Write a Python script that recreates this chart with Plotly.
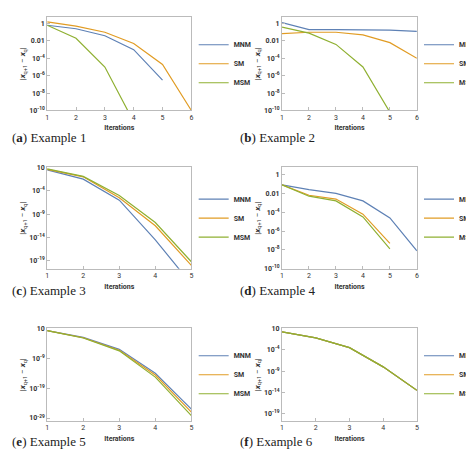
import plotly.graph_objects as go

iters6 = [1, 2, 3, 4, 5, 6]
iters5 = [1, 2, 3, 4, 5]

# log10 of |x_{q+1} - x_q|
ex1_mnm = [-0.2, -0.6, -1.4, -3.0, -6.5]
ex1_sm = [0.2, -0.3, -1.0, -2.3, -4.7, -10.0]
ex1_msm = [-0.2, -1.7, -5.0, -11.3]
ex2_mnm = [0.1, -0.7, -0.7, -0.7, -0.75, -0.9]
ex2_sm = [-1.15, -1.0, -1.0, -1.3, -2.2, -4.0]
ex2_msm = [-0.4, -1.1, -2.4, -5.0, -10.2]
ex3_mnm = [0.5, -1.5, -6.0, -14.5, -24.0]
ex3_sm = [0.6, -1.0, -5.5, -11.5, -20.0]
ex3_msm = [0.7, -0.9, -5.0, -10.8, -19.2]
ex4_mnm = [-1.1, -1.6, -2.0, -2.8, -4.6, -8.1]
ex4_sm = [-1.1, -2.2, -2.6, -4.2, -7.3]
ex4_msm = [-1.1, -2.3, -2.8, -4.5, -7.9]
ex5_mnm = [0.3, -2.0, -6.0, -14.0, -26.0]
ex5_sm = [0.3, -2.1, -6.3, -14.6, -27.0]
ex5_msm = [0.3, -2.2, -6.5, -15.3, -28.2]
ex6_mnm = [0.2, -1.2, -3.5, -8.0, -13.5]
ex6_sm = [0.2, -1.2, -3.5, -8.0, -13.5]
ex6_msm = [0.2, -1.2, -3.5, -8.0, -13.5]

series_names = ["MNM", "SM", "MSM"]
colors = ["#5E81B5", "#E19C24", "#8FB032"]

ticks_a = ([0, -2, -4, -6, -8, -10], ["1", "0.01", "10<sup>-4</sup>", "10<sup>-6</sup>", "10<sup>-8</sup>", "10<sup>-10</sup>"])
ticks_c = ([1, -4, -9, -14, -19], ["10", "10<sup>-4</sup>", "10<sup>-9</sup>", "10<sup>-14</sup>", "10<sup>-19</sup>"])
ticks_e = ([1, -9, -19, -29], ["10", "10<sup>-9</sup>", "10<sup>-19</sup>", "10<sup>-29</sup>"])

panels = [
    ("a", 1, iters6, [ex1_mnm, ex1_sm, ex1_msm], ticks_a, [-10, 0.75], 6),
    ("b", 2, iters6, [ex2_mnm, ex2_sm, ex2_msm], ticks_a, [-10, 0.75], 6),
    ("c", 3, iters5, [ex3_mnm, ex3_sm, ex3_msm], ticks_c, [-20.7, 1], 5),
    ("d", 4, iters6, [ex4_mnm, ex4_sm, ex4_msm], ticks_a, [-10, 0.75], 6),
    ("e", 5, iters5, [ex5_mnm, ex5_sm, ex5_msm], ticks_e, [-30, 1], 5),
    ("f", 6, iters5, [ex6_mnm, ex6_sm, ex6_msm], ticks_c, [-20.7, 1], 5),
]

xdom = [[0.080, 0.390], [0.585, 0.875]]
ydom = [[0.784, 0.989], [0.437, 0.659], [0.103, 0.306]]
legx = [0.395, 0.88]
capy = [0.724, 0.39, 0.058]
capx = [0.0, 0.49]

fig = go.Figure()
axfont = dict(family="Roboto", size=7, color="#333")
ylabel = "|<b><i>x</i></b><sub>q+1</sub> − <b><i>x</i></b><sub>q</sub>|"
layout = {}
anns = []
for letter, k, xs, ys, ticks, yr, xmax in panels:
    col = (k - 1) % 2
    row = (k - 1) // 2
    sfx = "" if k == 1 else str(k)
    leg = "legend" if k == 1 else "legend%d" % k
    for name, color, vals in zip(series_names, colors, ys):
        fig.add_trace(go.Scatter(
            x=xs[:len(vals)], y=vals, mode="lines", name="<b>%s</b>" % name,
            line=dict(color=color, width=1.2), xaxis="x" + sfx, yaxis="y" + sfx,
            legend=leg))
    layout["xaxis" + sfx] = dict(
        domain=xdom[col], anchor="y" + sfx, range=[1, xmax], dtick=1,
        showline=True, linecolor="#bbb", mirror=True, showgrid=False,
        ticks="inside", ticklen=3, tickcolor="#bbb", tickfont=axfont,
        title=dict(text="<b>Iterations</b>", font=axfont, standoff=4))
    layout["yaxis" + sfx] = dict(
        domain=ydom[row], anchor="x" + sfx, range=yr,
        tickvals=ticks[0], ticktext=["<b>%s</b>" % t for t in ticks[1]],
        showline=True, linecolor="#bbb", mirror=True, showgrid=False,
        zeroline=False, ticks="inside", ticklen=3, tickcolor="#bbb",
        tickfont=axfont, title=dict(text=ylabel, font=dict(family="Roboto", size=8, color="#333"), standoff=2))
    layout[leg] = dict(
        x=legx[col], y=sum(ydom[row]) / 2, xanchor="left", yanchor="middle",
        font=dict(family="Roboto", size=7, color="#333"), bgcolor="rgba(0,0,0,0)",
        itemwidth=30, tracegroupgap=0)
    anns.append(dict(
        text="(<b>%s</b>) Example %d" % (letter, k), x=capx[col],
        y=capy[row], xref="paper", yref="paper", xanchor="left", yanchor="middle",
        showarrow=False, font=dict(family="Liberation Serif", size=13, color="#222")))

fig.update_layout(**layout)
fig.update_layout(
    width=474, height=464, margin=dict(l=0, r=0, t=0, b=0),
    paper_bgcolor="white", plot_bgcolor="white", annotations=anns)

fig.write_html("out.html")
